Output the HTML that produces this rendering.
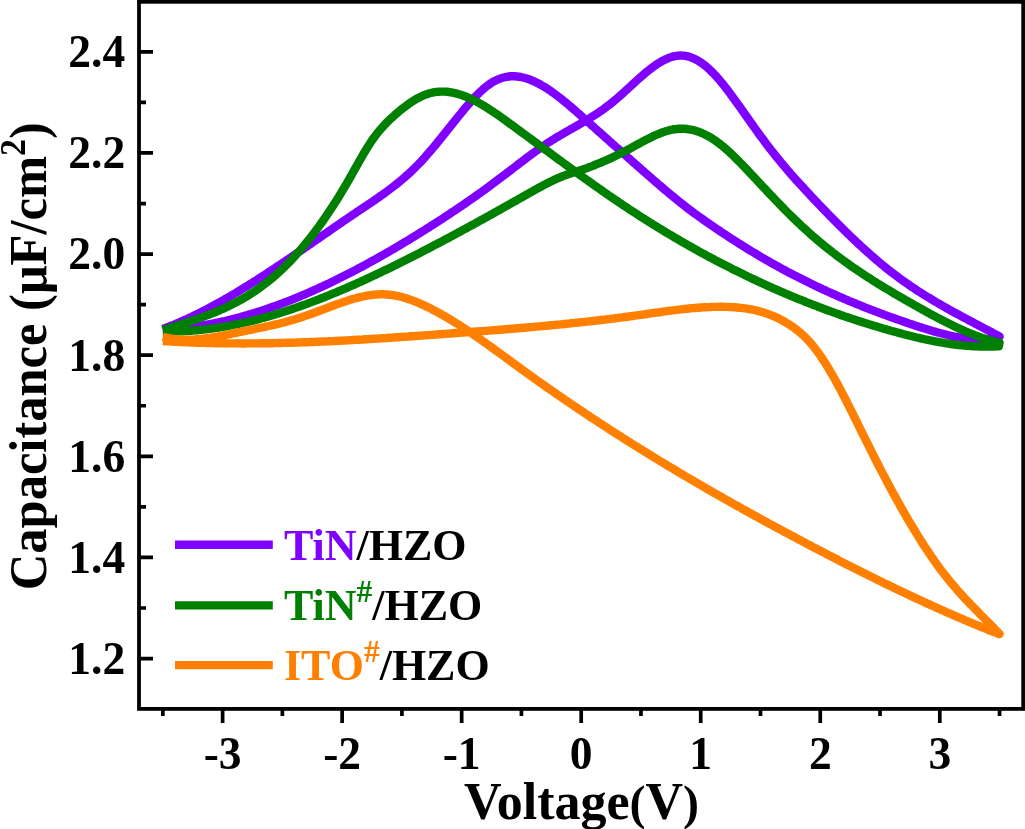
<!DOCTYPE html>
<html><head><meta charset="utf-8"><title>Capacitance vs Voltage</title>
<style>
html,body{margin:0;padding:0;background:#fff;}
body{width:1025px;height:829px;overflow:hidden;}
svg{display:block;will-change:transform;}
text{font-family:"Liberation Serif",serif;font-weight:bold;fill:#000;}
.t{font-size:45.5px;}
.tl{font-size:44px;}
.t2{font-size:52px;}
</style></head><body>
<svg width="1025" height="829" viewBox="0 0 1025 829">
<rect width="1025" height="829" fill="#fff"/>
<path d="M162.8,329.7 L164.8,329.6 L166.8,329.5 L168.8,329.4 L170.8,329.2 L172.8,329.1 L174.8,328.9 L176.8,328.7 L178.8,328.6 L180.8,328.4 L182.8,328.2 L184.8,327.9 L186.8,327.7 L188.8,327.4 L190.8,327.2 L192.8,326.9 L194.8,326.6 L196.8,326.3 L198.8,326.0 L200.8,325.7 L202.8,325.4 L204.8,325.0 L206.8,324.7 L208.8,324.3 L210.8,323.9 L212.8,323.5 L214.8,323.1 L216.8,322.7 L218.8,322.3 L220.8,321.9 L222.8,321.4 L224.8,321.0 L226.8,320.5 L228.8,320.0 L230.8,319.5 L232.8,319.0 L234.8,318.5 L236.8,318.0 L238.8,317.5 L240.8,316.9 L242.8,316.4 L244.8,315.8 L246.8,315.2 L248.8,314.6 L250.8,314.0 L252.8,313.4 L254.8,312.8 L256.8,312.2 L258.8,311.6 L260.8,310.9 L262.8,310.3 L264.8,309.6 L266.8,308.9 L268.8,308.2 L270.8,307.5 L272.8,306.8 L274.8,306.1 L276.8,305.4 L278.8,304.7 L280.8,303.9 L282.8,303.2 L284.8,302.4 L286.8,301.6 L288.8,300.9 L290.8,300.1 L292.8,299.3 L294.8,298.5 L296.8,297.6 L298.8,296.8 L300.8,296.0 L302.8,295.1 L304.8,294.3 L306.8,293.4 L308.8,292.6 L310.8,291.7 L312.8,290.8 L314.8,289.9 L316.8,289.0 L318.8,288.1 L320.8,287.2 L322.8,286.3 L324.8,285.3 L326.8,284.4 L328.8,283.5 L330.8,282.5 L332.8,281.5 L334.8,280.6 L336.8,279.6 L338.8,278.6 L340.8,277.6 L342.8,276.6 L344.8,275.6 L346.8,274.6 L348.8,273.6 L350.8,272.5 L352.8,271.5 L354.8,270.4 L356.8,269.4 L358.8,268.3 L360.8,267.3 L362.8,266.2 L364.8,265.1 L366.8,264.0 L368.8,262.9 L370.8,261.8 L372.8,260.7 L374.8,259.6 L376.8,258.5 L378.8,257.4 L380.8,256.2 L382.8,255.1 L384.8,254.0 L386.8,252.8 L388.8,251.7 L390.8,250.5 L392.8,249.3 L394.8,248.2 L396.8,247.0 L398.8,245.8 L400.8,244.6 L402.8,243.4 L404.8,242.2 L406.8,241.0 L408.8,239.8 L410.8,238.6 L412.8,237.3 L414.8,236.1 L416.8,234.9 L418.8,233.6 L420.8,232.4 L422.8,231.2 L424.8,229.9 L426.8,228.6 L428.8,227.4 L430.8,226.1 L432.8,224.8 L434.8,223.6 L436.8,222.3 L438.8,221.0 L440.8,219.7 L442.8,218.4 L444.8,217.1 L446.8,215.8 L448.8,214.5 L450.8,213.1 L452.8,211.8 L454.8,210.5 L456.8,209.1 L458.8,207.8 L460.8,206.4 L462.8,205.1 L464.8,203.7 L466.8,202.3 L468.8,200.9 L470.8,199.5 L472.8,198.1 L474.8,196.7 L476.8,195.3 L478.8,193.9 L480.8,192.5 L482.8,191.0 L484.8,189.6 L486.8,188.1 L488.8,186.7 L490.8,185.2 L492.8,183.7 L494.8,182.2 L496.8,180.7 L498.8,179.2 L500.8,177.7 L502.8,176.2 L504.8,174.7 L506.8,173.1 L508.8,171.6 L510.8,170.1 L512.8,168.5 L514.8,167.0 L516.8,165.5 L518.8,163.9 L520.8,162.4 L522.8,160.9 L524.8,159.4 L526.8,157.8 L528.8,156.4 L530.8,154.9 L532.8,153.4 L534.8,152.0 L536.8,150.5 L538.8,149.1 L540.8,147.7 L542.8,146.3 L544.8,145.0 L546.8,143.6 L548.8,142.3 L550.8,141.1 L552.8,139.8 L554.8,138.6 L556.8,137.3 L558.8,136.2 L560.8,135.0 L562.8,133.8 L564.8,132.6 L566.8,131.5 L568.8,130.4 L570.8,129.2 L572.8,128.1 L574.8,127.0 L576.8,125.8 L578.8,124.7 L580.8,123.5 L582.8,122.4 L584.8,121.2 L586.8,120.0 L588.8,118.8 L590.8,117.6 L592.8,116.3 L594.8,115.0 L596.8,113.7 L598.8,112.4 L600.8,111.0 L602.8,109.6 L604.8,108.2 L606.8,106.7 L608.8,105.2 L610.8,103.6 L612.8,102.0 L614.8,100.3 L616.8,98.6 L618.8,96.9 L620.8,95.1 L622.8,93.3 L624.8,91.5 L626.8,89.7 L628.8,87.8 L630.8,86.0 L632.8,84.1 L634.8,82.3 L636.8,80.5 L638.8,78.7 L640.8,76.9 L642.8,75.2 L644.8,73.5 L646.8,71.8 L648.8,70.2 L650.8,68.6 L652.8,67.1 L654.8,65.7 L656.8,64.3 L658.8,63.0 L660.8,61.8 L662.8,60.7 L664.8,59.7 L666.8,58.8 L668.8,57.9 L670.8,57.2 L672.8,56.6 L674.8,56.1 L676.8,55.8 L678.8,55.6 L680.8,55.5 L682.8,55.6 L684.8,55.8 L686.8,56.1 L688.8,56.6 L690.8,57.3 L692.8,58.1 L694.8,59.0 L696.8,60.0 L698.8,61.2 L700.8,62.5 L702.8,63.9 L704.8,65.4 L706.8,67.0 L708.8,68.8 L710.8,70.7 L712.8,72.7 L714.8,74.8 L716.8,76.9 L718.8,79.2 L720.8,81.6 L722.8,84.0 L724.8,86.5 L726.8,89.1 L728.8,91.7 L730.8,94.4 L732.8,97.2 L734.8,99.9 L736.8,102.7 L738.8,105.5 L740.8,108.3 L742.8,111.2 L744.8,114.0 L746.8,116.8 L748.8,119.7 L750.8,122.5 L752.8,125.3 L754.8,128.1 L756.8,130.9 L758.8,133.7 L760.8,136.4 L762.8,139.1 L764.8,141.8 L766.8,144.5 L768.8,147.1 L770.8,149.7 L772.8,152.2 L774.8,154.8 L776.8,157.2 L778.8,159.7 L780.8,162.1 L782.8,164.5 L784.8,166.9 L786.8,169.2 L788.8,171.6 L790.8,173.9 L792.8,176.1 L794.8,178.4 L796.8,180.6 L798.8,182.8 L800.8,185.0 L802.8,187.2 L804.8,189.4 L806.8,191.5 L808.8,193.7 L810.8,195.8 L812.8,198.0 L814.8,200.1 L816.8,202.2 L818.8,204.3 L820.8,206.4 L822.8,208.5 L824.8,210.5 L826.8,212.6 L828.8,214.7 L830.8,216.7 L832.8,218.8 L834.8,220.8 L836.8,222.8 L838.8,224.8 L840.8,226.8 L842.8,228.8 L844.8,230.8 L846.8,232.7 L848.8,234.6 L850.8,236.6 L852.8,238.5 L854.8,240.4 L856.8,242.3 L858.8,244.1 L860.8,246.0 L862.8,247.8 L864.8,249.6 L866.8,251.5 L868.8,253.2 L870.8,255.0 L872.8,256.8 L874.8,258.5 L876.8,260.2 L878.8,261.9 L880.8,263.6 L882.8,265.2 L884.8,266.9 L886.8,268.5 L888.8,270.1 L890.8,271.6 L892.8,273.2 L894.8,274.7 L896.8,276.2 L898.8,277.7 L900.8,279.1 L902.8,280.6 L904.8,282.0 L906.8,283.4 L908.8,284.8 L910.8,286.2 L912.8,287.5 L914.8,288.8 L916.8,290.2 L918.8,291.5 L920.8,292.7 L922.8,294.0 L924.8,295.3 L926.8,296.5 L928.8,297.7 L930.8,298.9 L932.8,300.1 L934.8,301.3 L936.8,302.5 L938.8,303.7 L940.8,304.8 L942.8,306.0 L944.8,307.1 L946.8,308.2 L948.8,309.4 L950.8,310.5 L952.8,311.6 L954.8,312.7 L956.8,313.8 L958.8,314.8 L960.8,315.9 L962.8,317.0 L964.8,318.1 L966.8,319.1 L968.8,320.2 L970.8,321.3 L972.8,322.3 L974.8,323.4 L976.8,324.4 L978.8,325.5 L980.8,326.5 L982.8,327.6 L984.8,328.7 L986.8,329.7 L988.8,330.8 L990.8,331.8 L992.8,332.9 L994.8,334.0 L996.8,335.0 L998.8,336.1 L999.6,336.5 L998.8,337.6 L996.8,337.9 L994.8,338.2 L992.8,338.5 L990.8,338.7 L988.8,338.9 L986.8,339.1 L984.8,339.2 L982.8,339.2 L980.8,339.2 L978.8,339.2 L976.8,339.2 L974.8,339.1 L972.8,339.0 L970.8,338.8 L968.8,338.6 L966.8,338.4 L964.8,338.2 L962.8,337.9 L960.8,337.6 L958.8,337.3 L956.8,336.9 L954.8,336.6 L952.8,336.2 L950.8,335.7 L948.8,335.3 L946.8,334.8 L944.8,334.3 L942.8,333.8 L940.8,333.3 L938.8,332.8 L936.8,332.2 L934.8,331.6 L932.8,331.1 L930.8,330.5 L928.8,329.8 L926.8,329.2 L924.8,328.6 L922.8,328.0 L920.8,327.3 L918.8,326.7 L916.8,326.0 L914.8,325.4 L912.8,324.7 L910.8,324.0 L908.8,323.4 L906.8,322.7 L904.8,322.0 L902.8,321.3 L900.8,320.6 L898.8,319.9 L896.8,319.2 L894.8,318.5 L892.8,317.8 L890.8,317.1 L888.8,316.4 L886.8,315.6 L884.8,314.9 L882.8,314.2 L880.8,313.4 L878.8,312.7 L876.8,311.9 L874.8,311.2 L872.8,310.4 L870.8,309.6 L868.8,308.8 L866.8,308.1 L864.8,307.3 L862.8,306.5 L860.8,305.7 L858.8,304.9 L856.8,304.1 L854.8,303.2 L852.8,302.4 L850.8,301.6 L848.8,300.8 L846.8,299.9 L844.8,299.1 L842.8,298.2 L840.8,297.3 L838.8,296.5 L836.8,295.6 L834.8,294.7 L832.8,293.8 L830.8,292.9 L828.8,292.0 L826.8,291.1 L824.8,290.2 L822.8,289.3 L820.8,288.3 L818.8,287.4 L816.8,286.5 L814.8,285.5 L812.8,284.5 L810.8,283.6 L808.8,282.6 L806.8,281.6 L804.8,280.6 L802.8,279.6 L800.8,278.6 L798.8,277.6 L796.8,276.6 L794.8,275.6 L792.8,274.5 L790.8,273.5 L788.8,272.4 L786.8,271.4 L784.8,270.3 L782.8,269.2 L780.8,268.1 L778.8,267.0 L776.8,265.9 L774.8,264.8 L772.8,263.7 L770.8,262.6 L768.8,261.4 L766.8,260.3 L764.8,259.1 L762.8,258.0 L760.8,256.8 L758.8,255.6 L756.8,254.4 L754.8,253.2 L752.8,252.0 L750.8,250.8 L748.8,249.6 L746.8,248.4 L744.8,247.1 L742.8,245.9 L740.8,244.6 L738.8,243.4 L736.8,242.1 L734.8,240.8 L732.8,239.5 L730.8,238.3 L728.8,237.0 L726.8,235.6 L724.8,234.3 L722.8,233.0 L720.8,231.7 L718.8,230.3 L716.8,229.0 L714.8,227.6 L712.8,226.3 L710.8,224.9 L708.8,223.5 L706.8,222.1 L704.8,220.7 L702.8,219.3 L700.8,217.9 L698.8,216.5 L696.8,215.0 L694.8,213.6 L692.8,212.1 L690.8,210.6 L688.8,209.1 L686.8,207.6 L684.8,206.0 L682.8,204.4 L680.8,202.9 L678.8,201.3 L676.8,199.6 L674.8,198.0 L672.8,196.4 L670.8,194.7 L668.8,193.1 L666.8,191.4 L664.8,189.7 L662.8,188.0 L660.8,186.3 L658.8,184.6 L656.8,182.9 L654.8,181.1 L652.8,179.4 L650.8,177.6 L648.8,175.9 L646.8,174.1 L644.8,172.4 L642.8,170.6 L640.8,168.9 L638.8,167.1 L636.8,165.3 L634.8,163.6 L632.8,161.8 L630.8,160.0 L628.8,158.3 L626.8,156.5 L624.8,154.7 L622.8,153.0 L620.8,151.2 L618.8,149.4 L616.8,147.6 L614.8,145.9 L612.8,144.1 L610.8,142.3 L608.8,140.5 L606.8,138.7 L604.8,137.0 L602.8,135.2 L600.8,133.4 L598.8,131.6 L596.8,129.8 L594.8,128.0 L592.8,126.2 L590.8,124.5 L588.8,122.7 L586.8,120.9 L584.8,119.1 L582.8,117.3 L580.8,115.5 L578.8,113.8 L576.8,112.0 L574.8,110.2 L572.8,108.5 L570.8,106.8 L568.8,105.1 L566.8,103.4 L564.8,101.8 L562.8,100.1 L560.8,98.5 L558.8,97.0 L556.8,95.5 L554.8,94.0 L552.8,92.5 L550.8,91.1 L548.8,89.8 L546.8,88.4 L544.8,87.2 L542.8,86.0 L540.8,84.8 L538.8,83.7 L536.8,82.7 L534.8,81.7 L532.8,80.8 L530.8,80.0 L528.8,79.2 L526.8,78.6 L524.8,78.0 L522.8,77.5 L520.8,77.0 L518.8,76.7 L516.8,76.5 L514.8,76.3 L512.8,76.3 L510.8,76.3 L508.8,76.5 L506.8,76.8 L504.8,77.2 L502.8,77.7 L500.8,78.3 L498.8,79.1 L496.8,79.9 L494.8,80.9 L492.8,82.0 L490.8,83.3 L488.8,84.7 L486.8,86.1 L484.8,87.8 L482.8,89.5 L480.8,91.3 L478.8,93.2 L476.8,95.2 L474.8,97.3 L472.8,99.5 L470.8,101.7 L468.8,104.0 L466.8,106.3 L464.8,108.6 L462.8,111.0 L460.8,113.5 L458.8,115.9 L456.8,118.4 L454.8,120.9 L452.8,123.4 L450.8,125.9 L448.8,128.4 L446.8,130.9 L444.8,133.4 L442.8,135.9 L440.8,138.4 L438.8,140.8 L436.8,143.3 L434.8,145.7 L432.8,148.1 L430.8,150.5 L428.8,152.8 L426.8,155.1 L424.8,157.4 L422.8,159.6 L420.8,161.8 L418.8,163.9 L416.8,165.9 L414.8,167.9 L412.8,169.9 L410.8,171.8 L408.8,173.6 L406.8,175.4 L404.8,177.2 L402.8,178.9 L400.8,180.6 L398.8,182.3 L396.8,183.9 L394.8,185.5 L392.8,187.0 L390.8,188.5 L388.8,190.0 L386.8,191.5 L384.8,193.0 L382.8,194.4 L380.8,195.8 L378.8,197.2 L376.8,198.6 L374.8,200.0 L372.8,201.4 L370.8,202.7 L368.8,204.1 L366.8,205.4 L364.8,206.7 L362.8,208.1 L360.8,209.4 L358.8,210.8 L356.8,212.1 L354.8,213.5 L352.8,214.8 L350.8,216.2 L348.8,217.5 L346.8,218.9 L344.8,220.3 L342.8,221.6 L340.8,223.0 L338.8,224.4 L336.8,225.8 L334.8,227.1 L332.8,228.5 L330.8,229.9 L328.8,231.3 L326.8,232.7 L324.8,234.0 L322.8,235.4 L320.8,236.8 L318.8,238.2 L316.8,239.6 L314.8,240.9 L312.8,242.3 L310.8,243.7 L308.8,245.1 L306.8,246.5 L304.8,247.8 L302.8,249.2 L300.8,250.6 L298.8,252.0 L296.8,253.3 L294.8,254.7 L292.8,256.1 L290.8,257.4 L288.8,258.8 L286.8,260.1 L284.8,261.5 L282.8,262.8 L280.8,264.2 L278.8,265.5 L276.8,266.8 L274.8,268.2 L272.8,269.5 L270.8,270.8 L268.8,272.1 L266.8,273.4 L264.8,274.7 L262.8,276.0 L260.8,277.3 L258.8,278.6 L256.8,279.9 L254.8,281.2 L252.8,282.4 L250.8,283.7 L248.8,284.9 L246.8,286.2 L244.8,287.4 L242.8,288.6 L240.8,289.9 L238.8,291.1 L236.8,292.3 L234.8,293.5 L232.8,294.7 L230.8,295.8 L228.8,297.0 L226.8,298.2 L224.8,299.3 L222.8,300.5 L220.8,301.6 L218.8,302.7 L216.8,303.8 L214.8,304.9 L212.8,306.0 L210.8,307.1 L208.8,308.1 L206.8,309.2 L204.8,310.2 L202.8,311.3 L200.8,312.3 L198.8,313.3 L196.8,314.3 L194.8,315.2 L192.8,316.2 L190.8,317.2 L188.8,318.1 L186.8,319.0 L184.8,319.9 L182.8,320.8 L180.8,321.7 L178.8,322.6 L176.8,323.4 L174.8,324.3 L172.8,325.1 L170.8,325.9 L168.8,326.7 L166.8,327.5 L164.8,328.3 L162.8,329.0" fill="none" stroke="#8000ff" stroke-width="8.4" stroke-linejoin="round" stroke-linecap="butt"/>
<path d="M162.8,331.5 L164.8,331.5 L166.8,331.6 L168.8,331.6 L170.8,331.6 L172.8,331.5 L174.8,331.5 L176.8,331.5 L178.8,331.4 L180.8,331.3 L182.8,331.2 L184.8,331.1 L186.8,331.0 L188.8,330.9 L190.8,330.8 L192.8,330.6 L194.8,330.4 L196.8,330.3 L198.8,330.1 L200.8,329.9 L202.8,329.7 L204.8,329.4 L206.8,329.2 L208.8,328.9 L210.8,328.7 L212.8,328.4 L214.8,328.1 L216.8,327.8 L218.8,327.5 L220.8,327.2 L222.8,326.9 L224.8,326.5 L226.8,326.2 L228.8,325.8 L230.8,325.4 L232.8,325.0 L234.8,324.6 L236.8,324.2 L238.8,323.8 L240.8,323.4 L242.8,322.9 L244.8,322.5 L246.8,322.0 L248.8,321.6 L250.8,321.1 L252.8,320.6 L254.8,320.1 L256.8,319.6 L258.8,319.1 L260.8,318.5 L262.8,318.0 L264.8,317.4 L266.8,316.9 L268.8,316.3 L270.8,315.7 L272.8,315.2 L274.8,314.6 L276.8,314.0 L278.8,313.3 L280.8,312.7 L282.8,312.1 L284.8,311.4 L286.8,310.8 L288.8,310.1 L290.8,309.5 L292.8,308.8 L294.8,308.1 L296.8,307.4 L298.8,306.7 L300.8,306.0 L302.8,305.3 L304.8,304.6 L306.8,303.9 L308.8,303.1 L310.8,302.4 L312.8,301.6 L314.8,300.9 L316.8,300.1 L318.8,299.3 L320.8,298.5 L322.8,297.8 L324.8,297.0 L326.8,296.2 L328.8,295.4 L330.8,294.5 L332.8,293.7 L334.8,292.9 L336.8,292.1 L338.8,291.2 L340.8,290.4 L342.8,289.5 L344.8,288.7 L346.8,287.8 L348.8,286.9 L350.8,286.0 L352.8,285.2 L354.8,284.3 L356.8,283.4 L358.8,282.5 L360.8,281.6 L362.8,280.7 L364.8,279.8 L366.8,278.8 L368.8,277.9 L370.8,277.0 L372.8,276.0 L374.8,275.1 L376.8,274.2 L378.8,273.2 L380.8,272.3 L382.8,271.3 L384.8,270.3 L386.8,269.4 L388.8,268.4 L390.8,267.4 L392.8,266.4 L394.8,265.5 L396.8,264.5 L398.8,263.5 L400.8,262.5 L402.8,261.5 L404.8,260.5 L406.8,259.5 L408.8,258.5 L410.8,257.5 L412.8,256.5 L414.8,255.4 L416.8,254.4 L418.8,253.4 L420.8,252.4 L422.8,251.3 L424.8,250.3 L426.8,249.3 L428.8,248.2 L430.8,247.2 L432.8,246.1 L434.8,245.1 L436.8,244.1 L438.8,243.0 L440.8,241.9 L442.8,240.9 L444.8,239.8 L446.8,238.8 L448.8,237.7 L450.8,236.6 L452.8,235.5 L454.8,234.5 L456.8,233.4 L458.8,232.3 L460.8,231.2 L462.8,230.1 L464.8,229.1 L466.8,228.0 L468.8,226.9 L470.8,225.8 L472.8,224.7 L474.8,223.6 L476.8,222.5 L478.8,221.4 L480.8,220.3 L482.8,219.2 L484.8,218.1 L486.8,217.0 L488.8,215.9 L490.8,214.8 L492.8,213.6 L494.8,212.5 L496.8,211.4 L498.8,210.3 L500.8,209.2 L502.8,208.0 L504.8,206.9 L506.8,205.8 L508.8,204.7 L510.8,203.5 L512.8,202.4 L514.8,201.3 L516.8,200.2 L518.8,199.0 L520.8,197.9 L522.8,196.8 L524.8,195.6 L526.8,194.5 L528.8,193.4 L530.8,192.2 L532.8,191.1 L534.8,190.0 L536.8,188.9 L538.8,187.8 L540.8,186.7 L542.8,185.6 L544.8,184.6 L546.8,183.5 L548.8,182.5 L550.8,181.5 L552.8,180.6 L554.8,179.6 L556.8,178.7 L558.8,177.8 L560.8,177.0 L562.8,176.2 L564.8,175.4 L566.8,174.7 L568.8,174.0 L570.8,173.4 L572.8,172.7 L574.8,172.1 L576.8,171.4 L578.8,170.8 L580.8,170.1 L582.8,169.5 L584.8,168.8 L586.8,168.1 L588.8,167.3 L590.8,166.6 L592.8,165.8 L594.8,165.0 L596.8,164.2 L598.8,163.4 L600.8,162.6 L602.8,161.7 L604.8,160.9 L606.8,160.0 L608.8,159.1 L610.8,158.2 L612.8,157.2 L614.8,156.3 L616.8,155.3 L618.8,154.3 L620.8,153.3 L622.8,152.3 L624.8,151.3 L626.8,150.2 L628.8,149.2 L630.8,148.1 L632.8,147.0 L634.8,145.9 L636.8,144.8 L638.8,143.7 L640.8,142.6 L642.8,141.5 L644.8,140.5 L646.8,139.4 L648.8,138.4 L650.8,137.4 L652.8,136.4 L654.8,135.5 L656.8,134.6 L658.8,133.8 L660.8,133.0 L662.8,132.3 L664.8,131.6 L666.8,131.0 L668.8,130.4 L670.8,129.9 L672.8,129.5 L674.8,129.2 L676.8,129.0 L678.8,128.8 L680.8,128.7 L682.8,128.7 L684.8,128.8 L686.8,129.0 L688.8,129.3 L690.8,129.6 L692.8,130.0 L694.8,130.6 L696.8,131.2 L698.8,131.8 L700.8,132.6 L702.8,133.5 L704.8,134.4 L706.8,135.4 L708.8,136.5 L710.8,137.7 L712.8,138.9 L714.8,140.2 L716.8,141.7 L718.8,143.1 L720.8,144.7 L722.8,146.3 L724.8,148.0 L726.8,149.7 L728.8,151.5 L730.8,153.4 L732.8,155.3 L734.8,157.2 L736.8,159.2 L738.8,161.2 L740.8,163.3 L742.8,165.3 L744.8,167.4 L746.8,169.5 L748.8,171.6 L750.8,173.8 L752.8,175.9 L754.8,178.0 L756.8,180.2 L758.8,182.3 L760.8,184.5 L762.8,186.6 L764.8,188.7 L766.8,190.9 L768.8,193.0 L770.8,195.1 L772.8,197.2 L774.8,199.3 L776.8,201.4 L778.8,203.4 L780.8,205.5 L782.8,207.5 L784.8,209.6 L786.8,211.6 L788.8,213.6 L790.8,215.6 L792.8,217.5 L794.8,219.5 L796.8,221.4 L798.8,223.3 L800.8,225.2 L802.8,227.1 L804.8,228.9 L806.8,230.7 L808.8,232.5 L810.8,234.3 L812.8,236.1 L814.8,237.8 L816.8,239.5 L818.8,241.2 L820.8,242.9 L822.8,244.5 L824.8,246.2 L826.8,247.8 L828.8,249.4 L830.8,250.9 L832.8,252.5 L834.8,254.0 L836.8,255.6 L838.8,257.1 L840.8,258.5 L842.8,260.0 L844.8,261.5 L846.8,262.9 L848.8,264.3 L850.8,265.8 L852.8,267.2 L854.8,268.5 L856.8,269.9 L858.8,271.3 L860.8,272.6 L862.8,273.9 L864.8,275.2 L866.8,276.6 L868.8,277.8 L870.8,279.1 L872.8,280.4 L874.8,281.7 L876.8,282.9 L878.8,284.2 L880.8,285.4 L882.8,286.6 L884.8,287.8 L886.8,289.0 L888.8,290.2 L890.8,291.4 L892.8,292.6 L894.8,293.8 L896.8,295.0 L898.8,296.1 L900.8,297.3 L902.8,298.4 L904.8,299.6 L906.8,300.7 L908.8,301.9 L910.8,303.0 L912.8,304.1 L914.8,305.3 L916.8,306.4 L918.8,307.5 L920.8,308.6 L922.8,309.8 L924.8,310.9 L926.8,312.0 L928.8,313.1 L930.8,314.2 L932.8,315.3 L934.8,316.3 L936.8,317.4 L938.8,318.5 L940.8,319.5 L942.8,320.6 L944.8,321.6 L946.8,322.6 L948.8,323.6 L950.8,324.6 L952.8,325.6 L954.8,326.5 L956.8,327.5 L958.8,328.4 L960.8,329.3 L962.8,330.2 L964.8,331.1 L966.8,332.0 L968.8,332.8 L970.8,333.6 L972.8,334.4 L974.8,335.2 L976.8,335.9 L978.8,336.7 L980.8,337.4 L982.8,338.1 L984.8,338.7 L986.8,339.3 L988.8,340.0 L990.8,340.5 L992.8,341.1 L994.8,341.6 L996.8,342.1 L998.8,342.6 L999.6,342.7 L998.8,346.3 L996.8,346.4 L994.8,346.5 L992.8,346.5 L990.8,346.6 L988.8,346.6 L986.8,346.6 L984.8,346.6 L982.8,346.6 L980.8,346.6 L978.8,346.5 L976.8,346.4 L974.8,346.3 L972.8,346.2 L970.8,346.1 L968.8,345.9 L966.8,345.8 L964.8,345.6 L962.8,345.4 L960.8,345.2 L958.8,345.0 L956.8,344.8 L954.8,344.5 L952.8,344.3 L950.8,344.0 L948.8,343.7 L946.8,343.4 L944.8,343.1 L942.8,342.7 L940.8,342.4 L938.8,342.0 L936.8,341.7 L934.8,341.3 L932.8,340.9 L930.8,340.5 L928.8,340.1 L926.8,339.7 L924.8,339.3 L922.8,338.8 L920.8,338.4 L918.8,337.9 L916.8,337.5 L914.8,337.0 L912.8,336.5 L910.8,336.0 L908.8,335.5 L906.8,335.0 L904.8,334.5 L902.8,334.0 L900.8,333.4 L898.8,332.9 L896.8,332.3 L894.8,331.8 L892.8,331.2 L890.8,330.7 L888.8,330.1 L886.8,329.6 L884.8,329.0 L882.8,328.4 L880.8,327.8 L878.8,327.2 L876.8,326.6 L874.8,326.0 L872.8,325.4 L870.8,324.8 L868.8,324.2 L866.8,323.6 L864.8,322.9 L862.8,322.3 L860.8,321.7 L858.8,321.0 L856.8,320.4 L854.8,319.7 L852.8,319.1 L850.8,318.4 L848.8,317.7 L846.8,317.0 L844.8,316.4 L842.8,315.7 L840.8,315.0 L838.8,314.3 L836.8,313.6 L834.8,312.9 L832.8,312.1 L830.8,311.4 L828.8,310.7 L826.8,310.0 L824.8,309.2 L822.8,308.5 L820.8,307.7 L818.8,307.0 L816.8,306.2 L814.8,305.4 L812.8,304.7 L810.8,303.9 L808.8,303.1 L806.8,302.3 L804.8,301.5 L802.8,300.7 L800.8,299.9 L798.8,299.1 L796.8,298.3 L794.8,297.5 L792.8,296.6 L790.8,295.8 L788.8,295.0 L786.8,294.1 L784.8,293.3 L782.8,292.4 L780.8,291.6 L778.8,290.7 L776.8,289.8 L774.8,288.9 L772.8,288.1 L770.8,287.2 L768.8,286.3 L766.8,285.4 L764.8,284.5 L762.8,283.5 L760.8,282.6 L758.8,281.7 L756.8,280.8 L754.8,279.8 L752.8,278.9 L750.8,277.9 L748.8,277.0 L746.8,276.0 L744.8,275.1 L742.8,274.1 L740.8,273.1 L738.8,272.1 L736.8,271.1 L734.8,270.2 L732.8,269.2 L730.8,268.1 L728.8,267.1 L726.8,266.1 L724.8,265.1 L722.8,264.1 L720.8,263.0 L718.8,262.0 L716.8,260.9 L714.8,259.9 L712.8,258.8 L710.8,257.8 L708.8,256.7 L706.8,255.6 L704.8,254.5 L702.8,253.4 L700.8,252.4 L698.8,251.3 L696.8,250.1 L694.8,249.0 L692.8,247.9 L690.8,246.8 L688.8,245.7 L686.8,244.5 L684.8,243.4 L682.8,242.2 L680.8,241.1 L678.8,239.9 L676.8,238.7 L674.8,237.6 L672.8,236.4 L670.8,235.2 L668.8,234.0 L666.8,232.8 L664.8,231.6 L662.8,230.4 L660.8,229.2 L658.8,228.0 L656.8,226.7 L654.8,225.5 L652.8,224.3 L650.8,223.0 L648.8,221.8 L646.8,220.5 L644.8,219.2 L642.8,218.0 L640.8,216.7 L638.8,215.4 L636.8,214.1 L634.8,212.8 L632.8,211.5 L630.8,210.2 L628.8,208.9 L626.8,207.5 L624.8,206.2 L622.8,204.9 L620.8,203.5 L618.8,202.2 L616.8,200.8 L614.8,199.5 L612.8,198.1 L610.8,196.7 L608.8,195.4 L606.8,194.0 L604.8,192.6 L602.8,191.2 L600.8,189.8 L598.8,188.4 L596.8,187.0 L594.8,185.6 L592.8,184.2 L590.8,182.7 L588.8,181.3 L586.8,179.9 L584.8,178.5 L582.8,177.0 L580.8,175.6 L578.8,174.1 L576.8,172.7 L574.8,171.2 L572.8,169.8 L570.8,168.3 L568.8,166.9 L566.8,165.4 L564.8,164.0 L562.8,162.5 L560.8,161.0 L558.8,159.6 L556.8,158.1 L554.8,156.6 L552.8,155.2 L550.8,153.7 L548.8,152.2 L546.8,150.7 L544.8,149.3 L542.8,147.8 L540.8,146.3 L538.8,144.9 L536.8,143.4 L534.8,141.9 L532.8,140.4 L530.8,138.9 L528.8,137.5 L526.8,136.0 L524.8,134.5 L522.8,133.1 L520.8,131.6 L518.8,130.1 L516.8,128.7 L514.8,127.2 L512.8,125.7 L510.8,124.3 L508.8,122.8 L506.8,121.3 L504.8,119.9 L502.8,118.5 L500.8,117.0 L498.8,115.6 L496.8,114.3 L494.8,112.9 L492.8,111.5 L490.8,110.2 L488.8,108.9 L486.8,107.6 L484.8,106.4 L482.8,105.2 L480.8,104.0 L478.8,102.9 L476.8,101.8 L474.8,100.8 L472.8,99.8 L470.8,98.8 L468.8,97.9 L466.8,97.0 L464.8,96.2 L462.8,95.5 L460.8,94.8 L458.8,94.2 L456.8,93.6 L454.8,93.1 L452.8,92.7 L450.8,92.3 L448.8,92.0 L446.8,91.8 L444.8,91.6 L442.8,91.6 L440.8,91.6 L438.8,91.7 L436.8,91.9 L434.8,92.2 L432.8,92.5 L430.8,93.0 L428.8,93.5 L426.8,94.2 L424.8,94.9 L422.8,95.7 L420.8,96.7 L418.8,97.7 L416.8,98.7 L414.8,99.9 L412.8,101.1 L410.8,102.5 L408.8,103.8 L406.8,105.3 L404.8,106.8 L402.8,108.3 L400.8,109.9 L398.8,111.6 L396.8,113.3 L394.8,115.0 L392.8,116.8 L390.8,118.6 L388.8,120.5 L386.8,122.5 L384.8,124.6 L382.8,126.8 L380.8,129.0 L378.8,131.4 L376.8,133.9 L374.8,136.5 L372.8,139.3 L370.8,142.2 L368.8,145.3 L366.8,148.5 L364.8,151.8 L362.8,155.2 L360.8,158.6 L358.8,162.1 L356.8,165.7 L354.8,169.2 L352.8,172.8 L350.8,176.4 L348.8,179.9 L346.8,183.3 L344.8,186.7 L342.8,190.1 L340.8,193.4 L338.8,196.7 L336.8,199.9 L334.8,203.0 L332.8,206.2 L330.8,209.2 L328.8,212.2 L326.8,215.2 L324.8,218.1 L322.8,221.0 L320.8,223.8 L318.8,226.6 L316.8,229.3 L314.8,232.0 L312.8,234.6 L310.8,237.2 L308.8,239.8 L306.8,242.2 L304.8,244.7 L302.8,247.1 L300.8,249.4 L298.8,251.7 L296.8,254.0 L294.8,256.2 L292.8,258.4 L290.8,260.5 L288.8,262.6 L286.8,264.6 L284.8,266.6 L282.8,268.5 L280.8,270.4 L278.8,272.3 L276.8,274.1 L274.8,275.8 L272.8,277.6 L270.8,279.2 L268.8,280.9 L266.8,282.5 L264.8,284.0 L262.8,285.5 L260.8,287.0 L258.8,288.4 L256.8,289.8 L254.8,291.2 L252.8,292.5 L250.8,293.8 L248.8,295.1 L246.8,296.3 L244.8,297.5 L242.8,298.7 L240.8,299.8 L238.8,300.9 L236.8,302.0 L234.8,303.1 L232.8,304.1 L230.8,305.1 L228.8,306.1 L226.8,307.0 L224.8,307.9 L222.8,308.9 L220.8,309.7 L218.8,310.6 L216.8,311.5 L214.8,312.3 L212.8,313.1 L210.8,313.9 L208.8,314.7 L206.8,315.4 L204.8,316.2 L202.8,316.9 L200.8,317.6 L198.8,318.4 L196.8,319.1 L194.8,319.8 L192.8,320.4 L190.8,321.1 L188.8,321.8 L186.8,322.5 L184.8,323.1 L182.8,323.8 L180.8,324.4 L178.8,325.1 L176.8,325.7 L174.8,326.4 L172.8,327.0 L170.8,327.7 L168.8,328.3 L166.8,329.0 L164.8,329.6 L162.8,330.3" fill="none" stroke="#008000" stroke-width="8.4" stroke-linejoin="round" stroke-linecap="butt"/>
<path d="M162.8,341.1 L164.8,341.2 L166.8,341.3 L168.8,341.4 L170.8,341.5 L172.8,341.6 L174.8,341.8 L176.8,341.9 L178.8,342.0 L180.8,342.1 L182.8,342.1 L184.8,342.2 L186.8,342.3 L188.8,342.4 L190.8,342.5 L192.8,342.6 L194.8,342.6 L196.8,342.7 L198.8,342.8 L200.8,342.8 L202.8,342.9 L204.8,342.9 L206.8,343.0 L208.8,343.1 L210.8,343.1 L212.8,343.1 L214.8,343.2 L216.8,343.2 L218.8,343.3 L220.8,343.3 L222.8,343.3 L224.8,343.3 L226.8,343.4 L228.8,343.4 L230.8,343.4 L232.8,343.4 L234.8,343.4 L236.8,343.4 L238.8,343.4 L240.8,343.5 L242.8,343.5 L244.8,343.5 L246.8,343.4 L248.8,343.4 L250.8,343.4 L252.8,343.4 L254.8,343.4 L256.8,343.4 L258.8,343.4 L260.8,343.3 L262.8,343.3 L264.8,343.3 L266.8,343.3 L268.8,343.2 L270.8,343.2 L272.8,343.2 L274.8,343.1 L276.8,343.1 L278.8,343.0 L280.8,343.0 L282.8,342.9 L284.8,342.9 L286.8,342.8 L288.8,342.8 L290.8,342.7 L292.8,342.7 L294.8,342.6 L296.8,342.5 L298.8,342.5 L300.8,342.4 L302.8,342.3 L304.8,342.3 L306.8,342.2 L308.8,342.1 L310.8,342.0 L312.8,342.0 L314.8,341.9 L316.8,341.8 L318.8,341.7 L320.8,341.6 L322.8,341.5 L324.8,341.5 L326.8,341.4 L328.8,341.3 L330.8,341.2 L332.8,341.1 L334.8,341.0 L336.8,340.9 L338.8,340.8 L340.8,340.7 L342.8,340.6 L344.8,340.5 L346.8,340.4 L348.8,340.3 L350.8,340.1 L352.8,340.0 L354.8,339.9 L356.8,339.8 L358.8,339.7 L360.8,339.6 L362.8,339.5 L364.8,339.3 L366.8,339.2 L368.8,339.1 L370.8,339.0 L372.8,338.9 L374.8,338.7 L376.8,338.6 L378.8,338.5 L380.8,338.4 L382.8,338.2 L384.8,338.1 L386.8,338.0 L388.8,337.8 L390.8,337.7 L392.8,337.6 L394.8,337.4 L396.8,337.3 L398.8,337.2 L400.8,337.0 L402.8,336.9 L404.8,336.8 L406.8,336.6 L408.8,336.5 L410.8,336.3 L412.8,336.2 L414.8,336.1 L416.8,335.9 L418.8,335.8 L420.8,335.6 L422.8,335.5 L424.8,335.4 L426.8,335.2 L428.8,335.1 L430.8,334.9 L432.8,334.8 L434.8,334.6 L436.8,334.5 L438.8,334.3 L440.8,334.2 L442.8,334.0 L444.8,333.9 L446.8,333.8 L448.8,333.6 L450.8,333.5 L452.8,333.3 L454.8,333.2 L456.8,333.0 L458.8,332.9 L460.8,332.7 L462.8,332.6 L464.8,332.4 L466.8,332.3 L468.8,332.1 L470.8,332.0 L472.8,331.8 L474.8,331.7 L476.8,331.5 L478.8,331.4 L480.8,331.2 L482.8,331.1 L484.8,330.9 L486.8,330.8 L488.8,330.6 L490.8,330.4 L492.8,330.3 L494.8,330.1 L496.8,330.0 L498.8,329.8 L500.8,329.7 L502.8,329.5 L504.8,329.3 L506.8,329.2 L508.8,329.0 L510.8,328.8 L512.8,328.7 L514.8,328.5 L516.8,328.3 L518.8,328.2 L520.8,328.0 L522.8,327.8 L524.8,327.7 L526.8,327.5 L528.8,327.3 L530.8,327.1 L532.8,327.0 L534.8,326.8 L536.8,326.6 L538.8,326.4 L540.8,326.3 L542.8,326.1 L544.8,325.9 L546.8,325.7 L548.8,325.5 L550.8,325.3 L552.8,325.1 L554.8,324.9 L556.8,324.7 L558.8,324.6 L560.8,324.4 L562.8,324.2 L564.8,324.0 L566.8,323.8 L568.8,323.6 L570.8,323.3 L572.8,323.1 L574.8,322.9 L576.8,322.7 L578.8,322.5 L580.8,322.3 L582.8,322.1 L584.8,321.9 L586.8,321.6 L588.8,321.4 L590.8,321.2 L592.8,321.0 L594.8,320.7 L596.8,320.5 L598.8,320.3 L600.8,320.0 L602.8,319.8 L604.8,319.6 L606.8,319.3 L608.8,319.1 L610.8,318.8 L612.8,318.6 L614.8,318.3 L616.8,318.1 L618.8,317.8 L620.8,317.6 L622.8,317.3 L624.8,317.0 L626.8,316.8 L628.8,316.5 L630.8,316.2 L632.8,316.0 L634.8,315.7 L636.8,315.4 L638.8,315.1 L640.8,314.9 L642.8,314.6 L644.8,314.3 L646.8,314.0 L648.8,313.7 L650.8,313.4 L652.8,313.1 L654.8,312.8 L656.8,312.6 L658.8,312.3 L660.8,312.0 L662.8,311.7 L664.8,311.4 L666.8,311.2 L668.8,310.9 L670.8,310.6 L672.8,310.4 L674.8,310.1 L676.8,309.9 L678.8,309.6 L680.8,309.4 L682.8,309.2 L684.8,308.9 L686.8,308.7 L688.8,308.5 L690.8,308.3 L692.8,308.1 L694.8,308.0 L696.8,307.8 L698.8,307.7 L700.8,307.5 L702.8,307.4 L704.8,307.3 L706.8,307.2 L708.8,307.1 L710.8,307.0 L712.8,306.9 L714.8,306.9 L716.8,306.9 L718.8,306.8 L720.8,306.8 L722.8,306.8 L724.8,306.9 L726.8,306.9 L728.8,307.0 L730.8,307.1 L732.8,307.2 L734.8,307.3 L736.8,307.5 L738.8,307.7 L740.8,307.9 L742.8,308.1 L744.8,308.4 L746.8,308.7 L748.8,309.0 L750.8,309.3 L752.8,309.7 L754.8,310.2 L756.8,310.6 L758.8,311.1 L760.8,311.7 L762.8,312.3 L764.8,312.9 L766.8,313.6 L768.8,314.3 L770.8,315.1 L772.8,315.9 L774.8,316.7 L776.8,317.6 L778.8,318.6 L780.8,319.6 L782.8,320.7 L784.8,321.8 L786.8,323.0 L788.8,324.3 L790.8,325.6 L792.8,327.0 L794.8,328.4 L796.8,329.9 L798.8,331.5 L800.8,333.2 L802.8,335.0 L804.8,336.9 L806.8,338.9 L808.8,341.0 L810.8,343.2 L812.8,345.6 L814.8,348.1 L816.8,350.7 L818.8,353.4 L820.8,356.3 L822.8,359.3 L824.8,362.4 L826.8,365.6 L828.8,368.9 L830.8,372.3 L832.8,375.7 L834.8,379.3 L836.8,382.9 L838.8,386.6 L840.8,390.4 L842.8,394.2 L844.8,398.0 L846.8,401.9 L848.8,405.9 L850.8,409.9 L852.8,413.9 L854.8,417.9 L856.8,421.9 L858.8,426.0 L860.8,430.1 L862.8,434.1 L864.8,438.2 L866.8,442.2 L868.8,446.2 L870.8,450.2 L872.8,454.2 L874.8,458.1 L876.8,462.0 L878.8,465.9 L880.8,469.8 L882.8,473.6 L884.8,477.4 L886.8,481.2 L888.8,485.0 L890.8,488.7 L892.8,492.4 L894.8,496.1 L896.8,499.7 L898.8,503.3 L900.8,506.9 L902.8,510.4 L904.8,513.9 L906.8,517.4 L908.8,520.8 L910.8,524.2 L912.8,527.5 L914.8,530.8 L916.8,534.1 L918.8,537.3 L920.8,540.5 L922.8,543.6 L924.8,546.7 L926.8,549.7 L928.8,552.7 L930.8,555.7 L932.8,558.6 L934.8,561.4 L936.8,564.2 L938.8,567.0 L940.8,569.7 L942.8,572.3 L944.8,574.9 L946.8,577.4 L948.8,579.9 L950.8,582.4 L952.8,584.8 L954.8,587.1 L956.8,589.4 L958.8,591.7 L960.8,593.9 L962.8,596.1 L964.8,598.3 L966.8,600.4 L968.8,602.5 L970.8,604.6 L972.8,606.7 L974.8,608.8 L976.8,610.8 L978.8,612.8 L980.8,614.9 L982.8,616.9 L984.8,618.9 L986.8,620.9 L988.8,622.9 L990.8,625.0 L992.8,627.0 L994.8,629.1 L996.8,631.1 L998.8,633.2 L999.6,634.0 L998.8,634.0 L996.8,633.2 L994.8,632.4 L992.8,631.6 L990.8,630.8 L988.8,630.0 L986.8,629.2 L984.8,628.4 L982.8,627.6 L980.8,626.8 L978.8,625.9 L976.8,625.1 L974.8,624.3 L972.8,623.5 L970.8,622.6 L968.8,621.8 L966.8,620.9 L964.8,620.1 L962.8,619.2 L960.8,618.4 L958.8,617.5 L956.8,616.6 L954.8,615.8 L952.8,614.9 L950.8,614.0 L948.8,613.1 L946.8,612.3 L944.8,611.4 L942.8,610.5 L940.8,609.6 L938.8,608.7 L936.8,607.8 L934.8,606.9 L932.8,606.0 L930.8,605.1 L928.8,604.2 L926.8,603.3 L924.8,602.4 L922.8,601.4 L920.8,600.5 L918.8,599.6 L916.8,598.7 L914.8,597.7 L912.8,596.8 L910.8,595.9 L908.8,594.9 L906.8,594.0 L904.8,593.0 L902.8,592.1 L900.8,591.1 L898.8,590.2 L896.8,589.2 L894.8,588.2 L892.8,587.3 L890.8,586.3 L888.8,585.3 L886.8,584.4 L884.8,583.4 L882.8,582.4 L880.8,581.4 L878.8,580.5 L876.8,579.5 L874.8,578.5 L872.8,577.5 L870.8,576.5 L868.8,575.5 L866.8,574.5 L864.8,573.5 L862.8,572.5 L860.8,571.5 L858.8,570.5 L856.8,569.5 L854.8,568.5 L852.8,567.5 L850.8,566.5 L848.8,565.5 L846.8,564.5 L844.8,563.4 L842.8,562.4 L840.8,561.4 L838.8,560.4 L836.8,559.3 L834.8,558.3 L832.8,557.3 L830.8,556.2 L828.8,555.2 L826.8,554.2 L824.8,553.1 L822.8,552.1 L820.8,551.0 L818.8,550.0 L816.8,548.9 L814.8,547.9 L812.8,546.9 L810.8,545.8 L808.8,544.7 L806.8,543.7 L804.8,542.6 L802.8,541.6 L800.8,540.5 L798.8,539.5 L796.8,538.4 L794.8,537.3 L792.8,536.3 L790.8,535.2 L788.8,534.1 L786.8,533.1 L784.8,532.0 L782.8,530.9 L780.8,529.8 L778.8,528.8 L776.8,527.7 L774.8,526.6 L772.8,525.5 L770.8,524.4 L768.8,523.4 L766.8,522.3 L764.8,521.2 L762.8,520.1 L760.8,519.0 L758.8,517.9 L756.8,516.8 L754.8,515.7 L752.8,514.6 L750.8,513.5 L748.8,512.4 L746.8,511.3 L744.8,510.2 L742.8,509.1 L740.8,507.9 L738.8,506.8 L736.8,505.7 L734.8,504.6 L732.8,503.5 L730.8,502.3 L728.8,501.2 L726.8,500.1 L724.8,499.0 L722.8,497.8 L720.8,496.7 L718.8,495.5 L716.8,494.4 L714.8,493.3 L712.8,492.1 L710.8,491.0 L708.8,489.8 L706.8,488.7 L704.8,487.5 L702.8,486.4 L700.8,485.2 L698.8,484.0 L696.8,482.9 L694.8,481.7 L692.8,480.5 L690.8,479.4 L688.8,478.2 L686.8,477.0 L684.8,475.8 L682.8,474.6 L680.8,473.5 L678.8,472.3 L676.8,471.1 L674.8,469.9 L672.8,468.7 L670.8,467.5 L668.8,466.3 L666.8,465.1 L664.8,463.9 L662.8,462.7 L660.8,461.5 L658.8,460.3 L656.8,459.0 L654.8,457.8 L652.8,456.6 L650.8,455.4 L648.8,454.1 L646.8,452.9 L644.8,451.7 L642.8,450.4 L640.8,449.2 L638.8,447.9 L636.8,446.7 L634.8,445.5 L632.8,444.2 L630.8,442.9 L628.8,441.7 L626.8,440.4 L624.8,439.2 L622.8,437.9 L620.8,436.6 L618.8,435.3 L616.8,434.1 L614.8,432.8 L612.8,431.5 L610.8,430.2 L608.8,428.9 L606.8,427.6 L604.8,426.3 L602.8,425.0 L600.8,423.7 L598.8,422.4 L596.8,421.1 L594.8,419.8 L592.8,418.5 L590.8,417.2 L588.8,415.8 L586.8,414.5 L584.8,413.2 L582.8,411.8 L580.8,410.5 L578.8,409.2 L576.8,407.8 L574.8,406.5 L572.8,405.1 L570.8,403.8 L568.8,402.4 L566.8,401.0 L564.8,399.7 L562.8,398.3 L560.8,396.9 L558.8,395.5 L556.8,394.2 L554.8,392.8 L552.8,391.4 L550.8,390.0 L548.8,388.6 L546.8,387.2 L544.8,385.8 L542.8,384.4 L540.8,383.0 L538.8,381.6 L536.8,380.1 L534.8,378.7 L532.8,377.3 L530.8,375.9 L528.8,374.4 L526.8,373.0 L524.8,371.5 L522.8,370.1 L520.8,368.6 L518.8,367.2 L516.8,365.7 L514.8,364.3 L512.8,362.8 L510.8,361.3 L508.8,359.9 L506.8,358.4 L504.8,356.9 L502.8,355.5 L500.8,354.0 L498.8,352.6 L496.8,351.1 L494.8,349.7 L492.8,348.2 L490.8,346.8 L488.8,345.3 L486.8,343.9 L484.8,342.5 L482.8,341.1 L480.8,339.6 L478.8,338.2 L476.8,336.9 L474.8,335.5 L472.8,334.1 L470.8,332.7 L468.8,331.4 L466.8,330.0 L464.8,328.7 L462.8,327.4 L460.8,326.1 L458.8,324.8 L456.8,323.5 L454.8,322.3 L452.8,321.1 L450.8,319.8 L448.8,318.6 L446.8,317.4 L444.8,316.3 L442.8,315.1 L440.8,314.0 L438.8,312.9 L436.8,311.8 L434.8,310.7 L432.8,309.7 L430.8,308.6 L428.8,307.6 L426.8,306.7 L424.8,305.7 L422.8,304.8 L420.8,303.9 L418.8,303.0 L416.8,302.2 L414.8,301.4 L412.8,300.6 L410.8,299.9 L408.8,299.2 L406.8,298.5 L404.8,297.9 L402.8,297.3 L400.8,296.8 L398.8,296.3 L396.8,295.9 L394.8,295.5 L392.8,295.2 L390.8,294.9 L388.8,294.7 L386.8,294.5 L384.8,294.4 L382.8,294.3 L380.8,294.3 L378.8,294.4 L376.8,294.5 L374.8,294.6 L372.8,294.8 L370.8,295.1 L368.8,295.4 L366.8,295.7 L364.8,296.1 L362.8,296.5 L360.8,296.9 L358.8,297.4 L356.8,297.9 L354.8,298.5 L352.8,299.0 L350.8,299.6 L348.8,300.2 L346.8,300.9 L344.8,301.5 L342.8,302.2 L340.8,302.9 L338.8,303.6 L336.8,304.3 L334.8,305.0 L332.8,305.8 L330.8,306.5 L328.8,307.3 L326.8,308.0 L324.8,308.8 L322.8,309.5 L320.8,310.3 L318.8,311.0 L316.8,311.8 L314.8,312.5 L312.8,313.3 L310.8,314.0 L308.8,314.7 L306.8,315.4 L304.8,316.1 L302.8,316.8 L300.8,317.5 L298.8,318.1 L296.8,318.7 L294.8,319.4 L292.8,319.9 L290.8,320.5 L288.8,321.1 L286.8,321.6 L284.8,322.2 L282.8,322.7 L280.8,323.2 L278.8,323.7 L276.8,324.2 L274.8,324.6 L272.8,325.1 L270.8,325.5 L268.8,326.0 L266.8,326.4 L264.8,326.9 L262.8,327.3 L260.8,327.7 L258.8,328.1 L256.8,328.5 L254.8,329.0 L252.8,329.4 L250.8,329.8 L248.8,330.2 L246.8,330.6 L244.8,331.0 L242.8,331.4 L240.8,331.8 L238.8,332.2 L236.8,332.6 L234.8,333.1 L232.8,333.5 L230.8,333.9 L228.8,334.3 L226.8,334.7 L224.8,335.1 L222.8,335.5 L220.8,335.9 L218.8,336.3 L216.8,336.6 L214.8,337.0 L212.8,337.3 L210.8,337.6 L208.8,338.0 L206.8,338.2 L204.8,338.5 L202.8,338.7 L200.8,339.0 L198.8,339.2 L196.8,339.3 L194.8,339.5 L192.8,339.6 L190.8,339.7 L188.8,339.7 L186.8,339.7 L184.8,339.7 L182.8,339.7 L180.8,339.6 L178.8,339.5 L176.8,339.3 L174.8,339.1 L172.8,338.8 L170.8,338.6 L168.8,338.2 L166.8,337.8 L164.8,337.4 L162.8,336.9" fill="none" stroke="#ff8000" stroke-width="8.4" stroke-linejoin="round" stroke-linecap="butt"/>
<rect x="139.00" y="1.80" width="884.20" height="707.10" fill="none" stroke="#000" stroke-width="3.8"/>
<path d="M139.00,51.85H153.00M139.00,102.41H146.00M139.00,152.97H153.00M139.00,203.53H146.00M139.00,254.09H153.00M139.00,304.65H146.00M139.00,355.21H153.00M139.00,405.77H146.00M139.00,456.33H153.00M139.00,506.89H146.00M139.00,557.45H153.00M139.00,608.01H146.00M139.00,658.57H153.00M162.85,708.90V716.00M222.61,708.90V723.00M282.38,708.90V716.00M342.14,708.90V723.00M401.91,708.90V716.00M461.67,708.90V723.00M521.44,708.90V716.00M581.20,708.90V723.00M640.97,708.90V716.00M700.73,708.90V723.00M760.50,708.90V716.00M820.26,708.90V723.00M880.03,708.90V716.00M939.79,708.90V723.00M999.56,708.90V716.00" stroke="#000" stroke-width="3.7" fill="none"/>
<text x="125.2" y="67.15" text-anchor="end" class="t">2.4</text>
<text x="125.2" y="168.27" text-anchor="end" class="t">2.2</text>
<text x="125.2" y="269.39" text-anchor="end" class="t">2.0</text>
<text x="125.2" y="370.51" text-anchor="end" class="t">1.8</text>
<text x="125.2" y="471.63" text-anchor="end" class="t">1.6</text>
<text x="125.2" y="572.75" text-anchor="end" class="t">1.4</text>
<text x="125.2" y="673.87" text-anchor="end" class="t">1.2</text>
<text x="222.61" y="768.8" text-anchor="middle" class="t">-3</text>
<text x="342.14" y="768.8" text-anchor="middle" class="t">-2</text>
<text x="461.67" y="768.8" text-anchor="middle" class="t">-1</text>
<text x="581.20" y="768.8" text-anchor="middle" class="t">0</text>
<text x="700.73" y="768.8" text-anchor="middle" class="t">1</text>
<text x="820.26" y="768.8" text-anchor="middle" class="t">2</text>
<text x="939.79" y="768.8" text-anchor="middle" class="t">3</text>
<text x="581.5" y="818.8" text-anchor="middle" class="t2">Voltage<tspan font-size="48">(</tspan>V<tspan font-size="48">)</tspan></text>
<text transform="translate(45.8,356.2) rotate(-90) scale(0.972,1)" text-anchor="middle" class="t2">Capacitance (&#956;F/cm<tspan dy="-21" font-size="35">2</tspan><tspan dy="21">)</tspan></text>
<path d="M175,544.70H272.8" stroke="#8000ff" stroke-width="8.4"/>
<text x="284" y="559.60" class="tl"><tspan fill="#8000ff">TiN</tspan>/HZO</text>
<path d="M175,605.40H272.8" stroke="#008000" stroke-width="8.4"/>
<text x="284" y="620.30" class="tl"><tspan fill="#008000">TiN<tspan dy="-18.3" font-size="31.5">#</tspan></tspan><tspan dy="18.3">/HZO</tspan></text>
<path d="M175,665.10H272.8" stroke="#ff8000" stroke-width="8.4"/>
<text x="284" y="680.00" class="tl"><tspan fill="#ff8000">ITO<tspan dy="-18.3" font-size="31.5">#</tspan></tspan><tspan dy="18.3">/HZO</tspan></text>
</svg>
</body></html>
